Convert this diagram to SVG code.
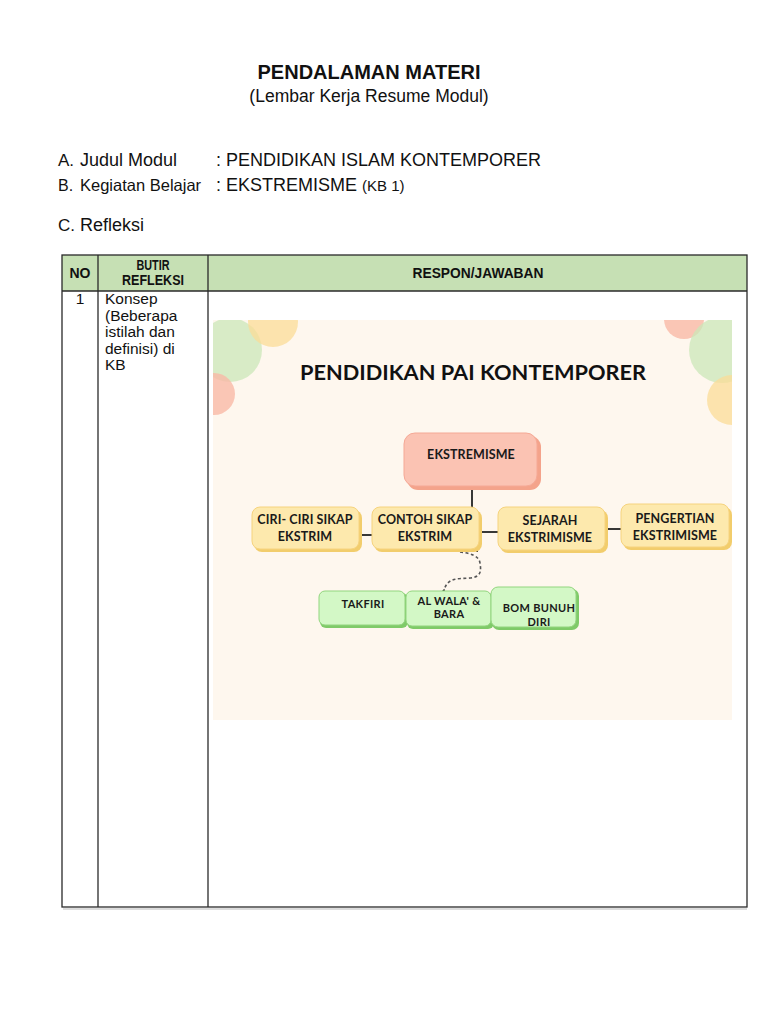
<svg xmlns="http://www.w3.org/2000/svg" width="768" height="1024" viewBox="0 0 768 1024">
<style>
.doc{font-family:"Liberation Sans",Arial,sans-serif;fill:#111}
.hd{font-family:"Liberation Sans",Arial,sans-serif;font-weight:bold;font-size:14px;fill:#111;text-anchor:middle}
.cell{font-family:"Liberation Sans",Arial,sans-serif;font-size:15.5px;fill:#111}
.tl{stroke:#2a2a2a;stroke-width:1.3;fill:none}
.nt{font-family:Lato,"Open Sans",sans-serif;font-weight:bold;font-size:12.5px;fill:#1a1a1a;text-anchor:middle;letter-spacing:0.1px}
.ntg{font-family:Lato,"Open Sans",sans-serif;font-weight:bold;font-size:11px;fill:#1a1a1a;text-anchor:middle;letter-spacing:0.3px}
.yel{fill:#fde9ad;stroke:#f6d37e;stroke-width:1}
.yels{fill:#f2cd6c}
.grn{fill:#d3f8c6;stroke:#92d57e;stroke-width:1}
.grns{fill:#7fca68}
.con{stroke:#222;stroke-width:1.8;fill:none}
</style>
<rect width="768" height="1024" fill="#ffffff"/>
<g id="heading">
<text class="doc" x="369" y="79" font-size="20" font-weight="bold" text-anchor="middle">PENDALAMAN MATERI</text>
<text class="doc" x="369" y="102" font-size="17.5" text-anchor="middle">(Lembar Kerja Resume Modul)</text>
<text class="doc" x="58" y="166" font-size="17">A.</text>
<text class="doc" x="80" y="166" font-size="18">Judul Modul</text>
<text class="doc" x="216" y="166" font-size="18">: PENDIDIKAN ISLAM KONTEMPORER</text>
<text class="doc" x="58" y="191" font-size="16">B.</text>
<text class="doc" x="80" y="191" font-size="16.5">Kegiatan Belajar</text>
<text class="doc" x="216" y="191" font-size="18">: EKSTREMISME <tspan font-size="15">(KB 1)</tspan></text>
<text class="doc" x="58" y="231" font-size="17">C.</text>
<text class="doc" x="80" y="231" font-size="18">Refleksi</text>
</g>
<g id="table">
<rect x="62" y="255" width="685" height="36" fill="#c6e0b4"/>
<rect class="tl" x="62" y="255" width="685" height="652"/>
<line class="tl" x1="62" y1="291" x2="747" y2="291"/>
<line class="tl" x1="98" y1="255" x2="98" y2="907"/>
<line class="tl" x1="208" y1="255" x2="208" y2="907"/>
<line x1="63" y1="909" x2="747" y2="909" stroke="#bbb" stroke-width="1"/>
<text class="hd" x="80" y="278" textLength="21" lengthAdjust="spacingAndGlyphs">NO</text>
<text class="hd" x="153" y="270" textLength="33" lengthAdjust="spacingAndGlyphs">BUTIR</text>
<text class="hd" x="153" y="285" textLength="62" lengthAdjust="spacingAndGlyphs">REFLEKSI</text>
<text class="hd" x="478" y="278" textLength="131" lengthAdjust="spacingAndGlyphs">RESPON/JAWABAN</text>
<text class="cell" x="80" y="304" text-anchor="middle">1</text>
<text class="cell" x="105" y="304">Konsep</text>
<text class="cell" x="105" y="321">(Beberapa</text>
<text class="cell" x="105" y="337">istilah dan</text>
<text class="cell" x="105" y="354">definisi) di</text>
<text class="cell" x="105" y="370">KB</text>
</g>
<defs>
<clipPath id="pic"><rect x="213" y="320" width="519" height="400"/></clipPath>
<marker id="arr" viewBox="0 0 10 10" refX="2" refY="5" markerWidth="8" markerHeight="8" orient="auto-start-reverse" markerUnits="userSpaceOnUse">
<path d="M9,1 L2,5 L9,9" fill="none" stroke="#333" stroke-width="1.6"/>
</marker>
</defs>
<g id="picture-bg">
<rect x="213" y="320" width="519" height="400" fill="#fef7ee"/>
<g clip-path="url(#pic)">
<circle cx="230" cy="350" r="32" fill="#cbe7b8" opacity="0.75"/>
<circle cx="273" cy="322" r="25" fill="#fbdc97" opacity="0.75"/>
<circle cx="214" cy="394" r="21" fill="#f9b9a6" opacity="0.8"/>
<circle cx="684" cy="319" r="20" fill="#f9b9a6" opacity="0.8"/>
<circle cx="722" cy="350" r="33" fill="#cbe7b8" opacity="0.75"/>
<circle cx="732" cy="400" r="25" fill="#fbdc97" opacity="0.75"/>
</g>
<text x="473" y="380" font-family="Lato,'Open Sans',sans-serif" font-weight="bold" font-size="21" fill="#111" text-anchor="middle" textLength="346" lengthAdjust="spacingAndGlyphs">PENDIDIKAN PAI KONTEMPORER</text>
</g>
<g id="connectors">
<line class="con" x1="472" y1="488" x2="472" y2="508"/>
<line class="con" x1="360" y1="535" x2="372" y2="535"/>
<line class="con" x1="481" y1="532" x2="498" y2="532"/>
<line class="con" x1="606" y1="529" x2="621" y2="529"/>
<line class="con" x1="480" y1="529" x2="477" y2="552"/>
<path d="M460,552 C470,553 479,556 480,563 C481,570 482,577 470,578 C458,579 448,577 444,590" fill="none" stroke="#555" stroke-width="1.6" stroke-dasharray="3,2.5" marker-end="url(#arr)"/>
</g>
<g id="node-ekstremisme">
<rect x="407" y="436" width="134" height="54" rx="11" fill="#f4a38b"/>
<rect x="404" y="433" width="133" height="53" rx="11" fill="#fbc3b3" stroke="#f5a996" stroke-width="1"/>
<text class="nt" x="471" y="459" font-size="15" letter-spacing="0.6">EKSTREMISME</text>
</g>
<g id="node-ciri">
<rect class="yels" x="254" y="510" width="108" height="42" rx="8"/>
<rect class="yel" x="252" y="507" width="107" height="42" rx="8"/>
<text class="nt" x="305" y="524">CIRI- CIRI SIKAP</text>
<text class="nt" x="305" y="541">EKSTRIM</text>
</g>
<g id="node-contoh">
<rect class="yels" x="374" y="510" width="108" height="42" rx="8"/>
<rect class="yel" x="372" y="507" width="107" height="42" rx="8"/>
<text class="nt" x="425" y="524">CONTOH SIKAP</text>
<text class="nt" x="425" y="541">EKSTRIM</text>
</g>
<g id="node-sejarah">
<rect class="yels" x="500" y="510" width="108" height="43" rx="8"/>
<rect class="yel" x="498" y="507" width="107" height="43" rx="8"/>
<text class="nt" x="550" y="525">SEJARAH</text>
<text class="nt" x="550" y="542">EKSTRIMISME</text>
</g>
<g id="node-pengertian">
<rect class="yels" x="623" y="507" width="109" height="43" rx="8"/>
<rect class="yel" x="621" y="504" width="108" height="43" rx="8"/>
<text class="nt" x="675" y="523">PENGERTIAN</text>
<text class="nt" x="675" y="540">EKSTRIMISME</text>
</g>
<g id="node-takfiri">
<rect class="grns" x="320" y="593" width="88" height="35" rx="6"/>
<rect class="grn" x="319" y="591" width="86" height="34" rx="6"/>
<text class="ntg" x="363" y="608">TAKFIRI</text>
</g>
<g id="node-alwala">
<rect class="grns" x="407" y="593" width="87" height="36" rx="6"/>
<rect class="grn" x="406" y="591" width="85" height="35" rx="6"/>
<text class="ntg" x="449" y="605">AL WALA' &amp;</text>
<text class="ntg" x="449" y="618">BARA</text>
</g>
<g id="node-bom">
<rect class="grns" x="492" y="589" width="87" height="41" rx="7"/>
<rect class="grn" x="491" y="587" width="85" height="40" rx="7"/>
<text class="ntg" x="539" y="612">BOM BUNUH</text>
<text class="ntg" x="539" y="626">DIRI</text>
</g>
</svg>
